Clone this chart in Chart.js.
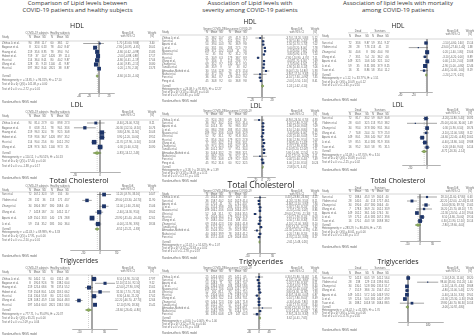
<!DOCTYPE html>
<html>
<head>
<meta charset="utf-8">
<script src="https://cdn.jsdelivr.net/npm/chart.js@4.4.1/dist/chart.umd.min.js"></script>
<style>
  body { margin: 0; width: 474px; height: 336px; position: relative; background: #fff; overflow: hidden; font-family: "Open Sans", sans-serif; }
  .ttl { position: absolute; top: 0; text-align: center; font-size: 6px; line-height: 7.4px; color: #333; }
  canvas { position: absolute; }
</style>
</head>
<body>
<div class="ttl" style="left:0;width:155px">Comparison of Lipid levels between<br>COVID-19 patients and healthy subjects</div>
<div class="ttl" style="left:170px;width:160px">Association of Lipid levels with<br>severity among COVID-19 patients</div>
<div class="ttl" style="left:320px;width:156px">Association of lipid levels with mortality<br>among COVID-19 patients</div>
<script>
// ---- data: COVID-19 vs healthy ----
const c1HdlStudy = ['Zhihua Li et al.', 'Bagaran et al.', 'Huang et al.', 'Hobert et al.', 'Hu et al.', 'Wang et al.', 'Hu et al.'];
const c1HdlG1 = [[94, 39.8, 11.7], [8, 32.4, 6.53], [219, 35.6, 8.95], [719, 37.0, 10.7], [114, 36.4, 8.01], [228, 35.0, 9.13], [597, 38.2, 8.04]];
const c1HdlG2 = [[60, 38.1, 12.0], [78, 40.2, 8.67], [78, 39.4, 9.40], [1426, 39.0, 11.4], [80, 40.2, 9.87], [1140, 41.0, 9.87], [2821, 38.0, 8.87]];
const c1HdlMd = [1.70, -7.80, -3.80, -2.00, -3.80, -6.00, 0.20];
const c1HdlLo = [-31.60, -10.95, -6.62, -4.88, -6.41, -9.85, -1.76];
const c1HdlHi = [9.84, -4.65, -0.98, 0.88, -1.19, -2.15, 2.16];
const c1HdlWt = [3.40, 16.01, 15.85, 17.17, 17.04, 16.80, 13.73];
const c1HdlAll = [-3.60, -6.20, -1.00];
const c1HdlStats = ['Heterogeneity: τ² = 13.85, I² = 96.31%, H² = 27.10', 'Test of θi = θj: Q(6) = 141.08, p = 0.00', 'Test of θ = 0: z = -2.72, p = 0.01'];

const c1LdlStudy = ['Zhihua Li et al.', 'Bagaran et al.', 'Huang et al.', 'Hobert et al.', 'Hu et al.', 'Wang et al.'];
const c1LdlG1 = [[94, 81.4, 27.9], [8, 63.8, 21.1], [219, 96.3, 32.4], [719, 93.6, 36.7], [114, 90.4, 25.6], [228, 97.6, 34.5]];
const c1LdlG2 = [[60, 89.8, 27.3], [78, 94.1, 33.6], [78, 92.5, 30.8], [1426, 89.7, 35.2], [80, 102.1, 29.2], [1140, 97.3, 35.0]];
const c1LdlMd = [-8.40, -30.30, 3.80, 3.90, -11.70, 0.30];
const c1LdlLo = [-26.00, -52.10, -3.90, -2.20, -17.90, -5.60];
const c1LdlHi = [9.20, -8.50, 11.50, 10.00, -5.50, 6.20];
const c1LdlWt = [8.21, 10.76, 20.03, 19.52, 20.58, 20.90];
const c1LdlAll = [-5.83, -14.12, 2.46];
const c1LdlStats = ['Heterogeneity: τ² = 110.12, I² = 90.51%, H² = 10.53', 'Test of θi = θj: Q(5) = 57.40, p = 0.00', 'Test of θ = 0: z = -1.38, p = 0.17'];

const c1TcStudy = ['Sun et al.', 'Yildirim et al.', 'Zhang et al.', 'Wang et al.', 'Aparisi et al.', 'Li et al.'];
const c1TcG1 = [[72, 167.2, 32.3], [28, 132.0, 36.0], [34, 180.6, 38.7], [7, 142.8, 18.7], [149, 150.1, 33.3], [59, 154.0, 35.2]];
const c1TcG2 = [[59, 155.0, 30.0], [113, 171.0, 43.7], [580, 168.6, 40.0], [24, 145.2, 11.7], [140, 174.0, 28.8], [585, 160.0, 36.4]];
const c1TcMd = [12.20, -39.00, 12.00, -2.40, -23.90, -6.00];
const c1TcLo = [-8.76, -53.30, -1.60, -14.30, -31.40, -15.90];
const c1TcHi = [33.16, -24.70, 25.60, 9.50, -16.40, 3.90];
const c1TcWt = [14.07, 11.90, 15.06, 18.02, 22.61, 18.34];
const c1TcAll = [-8.52, -15.21, -1.83];
const c1TcStats = ['Heterogeneity: τ² = 42.43, I² = 69.98%, H² = 3.33', 'Test of θi = θj: Q(5) = 17.91, p = 0.00', 'Test of θ = 0: z = -2.50, p = 0.01'];

const c1TgStudy = ['Zhihua Li et al.', 'Bagaran et al.', 'Huang et al.', 'Hobert et al.', 'Hu et al.', 'Wang et al.', 'Hu et al.'];
const c1TgG1 = [[94, 140.2, 51.0], [8, 190.3, 92.6], [219, 125.4, 68.6], [719, 150.8, 80.1], [114, 130.4, 55.8], [228, 108.2, 45.9], [597, 145.6, 60.3]];
const c1TgG2 = [[60, 132.1, 48.0], [78, 138.2, 60.4], [78, 137.4, 55.2], [1426, 118.5, 66.2], [80, 122.1, 60.5], [1140, 160.4, 48.3], [2821, 133.5, 58.4]];
const c1TgMd = [8.10, 52.10, -12.00, 32.30, 8.30, -52.20, 12.10];
const c1TgLo = [-3.90, 12.10, -27.90, -7.70, -4.60, -66.70, 5.90];
const c1TgHi = [20.10, 92.10, 3.90, 72.30, 21.20, -37.70, 18.30];
const c1TgWt = [17.97, 9.52, 15.61, 11.83, 17.02, 12.64, 15.41];
const c1TgAll = [-13.60, -26.40, -0.80];
const c1TgStats = ['Heterogeneity: τ² = 777.71, I² = 95.09%, H² = 20.37', 'Test of θi = θj: Q(6) = 65.23, p = 0.00', 'Test of θ = 0: z = 2.09, p = 0.04'];

// ---- data: severe vs non-severe ----
const c2HdlStudy = ['Zhihua Li et al.', 'Sun et al.', 'Aparisi et al.', 'Li et al.', 'Masana et al.', 'Wei et al.', 'Hu et al.', 'Wang et al.', 'Zhang et al.', 'Tanaka et al.', 'Ahmadian-Moheb et al.', 'Mahat et al.', 'Fan et al.', 'Peng et al.'];
const c2HdlG1 = [[25, 38.2, 10.7], [36, 36.5, 9.1], [54, 39.4, 10.3], [64, 33.1, 8.6], [189, 37.1, 10.2], [52, 35.0, 8.4], [21, 30.9, 6.3], [77, 33.6, 8.0], [69, 35.2, 9.7], [48, 35.9, 9.0], [30, 55.6, 12.8], [40, 37.2, 9.6], [36, 36.1, 8.7], [45, 34.8, 9.2]];
const c2HdlG2 = [[69, 41.9, 11.5], [202, 34.2, 8.7], [94, 36.9, 9.8], [183, 27.5, 7.9], [1043, 31.0, 9.6], [92, 31.2, 7.8], [179, 38.7, 8.9], [113, 29.6, 7.7], [130, 31.5, 9.3], [57, 33.0, 8.2], [29, 47.6, 15.4], [78, 41.1, 10.5], [129, 40.2, 9.4], [60, 36.8, 9.8]];
const c2HdlMd = [-3.70, 2.30, 2.50, 5.60, 6.10, 3.80, -7.80, 4.00, 3.70, 2.90, 8.00, -3.90, -4.10, -2.00];
const c2HdlLo = [-13.20, -0.80, -0.70, 3.20, 4.60, 0.90, -10.90, 1.70, 0.90, -0.30, 1.20, -17.10, -7.30, -5.50];
const c2HdlHi = [5.80, 5.40, 5.70, 8.00, 7.60, 6.70, -4.70, 6.30, 6.50, 6.10, 14.80, 9.30, -0.90, 1.50];
const c2HdlWt = [5.12, 7.48, 7.02, 7.78, 8.06, 7.24, 7.11, 7.69, 7.45, 7.06, 5.93, 6.30, 7.35, 8.41];
const c2HdlAll = [1.24, -1.62, 4.10];
const c2HdlStats = ['Heterogeneity: τ² = 24.08, I² = 91.85%, H² = 12.27', 'Test of θi = θj: Q(13) = 160.49, p = 0.00', 'Test of θ = 0: z = 0.85, p = 0.40'];

const c2LdlStudy = ['Zhihua Li et al.', 'Sun et al.', 'Aparisi et al.', 'Li et al.', 'Masana et al.', 'Wei et al.', 'Hu et al.', 'Wang et al.', 'Zhang et al.', 'Tanaka et al.', 'Ahmadian-Moheb et al.', 'Mahat et al.', 'Fan et al.', 'Peng et al.'];
const c2LdlG1 = [[25, 92.4, 28.3], [36, 96.7, 30.2], [54, 101.3, 35.0], [64, 88.4, 29.8], [189, 94.2, 33.6], [52, 92.0, 31.1], [21, 85.6, 26.4], [77, 99.5, 34.2], [69, 97.4, 32.3], [48, 101.2, 36.7], [30, 104.6, 33.2], [40, 86.5, 29.9], [36, 93.1, 30.8], [45, 95.2, 31.6]];
const c2LdlG2 = [[69, 101.3, 30.0], [202, 93.5, 31.4], [94, 98.5, 33.7], [183, 85.3, 28.6], [1043, 90.8, 32.9], [92, 91.8, 30.5], [179, 82.3, 27.8], [113, 93.6, 33.1], [130, 94.7, 31.8], [57, 95.1, 34.4], [29, 98.8, 32.1], [78, 92.7, 31.2], [129, 92.7, 30.3], [60, 92.2, 32.5]];
const c2LdlMd = [-8.90, 3.20, 2.80, 3.10, 3.40, 0.20, 3.30, 5.90, 2.70, 6.10, 5.80, -6.20, 0.40, 3.00];
const c2LdlLo = [-24.50, -2.80, -3.00, -2.60, 0.80, -5.60, -2.90, 0.40, -2.90, 0.20, -0.90, -27.00, -5.60, -2.50];
const c2LdlHi = [6.70, 9.20, 8.60, 8.80, 6.00, 6.00, 9.50, 11.40, 8.30, 12.00, 12.50, 14.60, 6.40, 8.50];
const c2LdlWt = [4.93, 7.41, 7.09, 7.66, 8.12, 7.22, 7.03, 7.51, 7.38, 7.11, 6.70, 4.11, 7.49, 10.24];
const c2LdlAll = [2.58, 0.71, 4.45];
const c2LdlStats = ['Heterogeneity: τ² = 3.18, I² = 28.14%, H² = 1.39', 'Test of θi = θj: Q(13) = 18.09, p = 0.15', 'Test of θ = 0: z = 2.71, p = 0.01'];

const c2TcStudy = ['Zhihua Li et al.', 'Sun et al.', 'Aparisi et al.', 'Li et al.', 'Masana et al.', 'Wei et al.', 'Hu et al.', 'Wang et al.', 'Zhang et al.', 'Tanaka et al.', 'Ahmadian-Moheb et al.', 'Mahat et al.', 'Fan et al.'];
const c2TcG1 = [[25, 162.4, 38.3], [36, 158.7, 40.2], [54, 170.3, 41.0], [64, 155.4, 39.8], [189, 166.2, 43.6], [52, 144.0, 31.1], [21, 160.6, 36.4], [77, 168.5, 44.2], [69, 159.4, 42.3], [48, 171.2, 46.7], [30, 150.6, 33.2], [40, 163.5, 39.9], [36, 157.1, 40.8]];
const c2TcG2 = [[69, 162.0, 40.0], [202, 162.9, 41.4], [94, 174.1, 43.7], [183, 155.1, 38.6], [1043, 166.4, 42.9], [92, 163.6, 35.5], [179, 160.5, 37.8], [113, 168.0, 43.1], [130, 163.5, 41.8], [57, 167.3, 44.4], [29, 162.9, 36.1], [78, 163.3, 41.2], [129, 160.8, 40.3]];
const c2TcMd = [0.40, -4.20, -3.80, 0.30, -0.20, -19.60, 0.10, 0.50, -4.10, 3.90, -12.30, 0.20, -3.70];
const c2TcLo = [-23.80, -11.90, -11.50, -7.60, -5.40, -27.90, -7.90, -7.30, -12.00, -4.20, -24.10, -7.80, -11.20];
const c2TcHi = [24.60, 3.50, 3.90, 8.20, 5.00, -11.30, 8.10, 8.30, 3.80, 12.00, -0.50, 8.20, 3.80];
const c2TcWt = [4.25, 8.11, 7.94, 8.32, 8.86, 7.51, 8.03, 8.24, 8.10, 7.62, 6.45, 8.30, 8.27];
const c2TcAll = [-2.61, -5.48, 0.26];
const c2TcStats = ['Heterogeneity: τ² = 12.47, I² = 51.62%, H² = 2.07', 'Test of θi = θj: Q(12) = 25.63, p = 0.01', 'Test of θ = 0: z = -1.78, p = 0.07'];

const c2TgStudy = ['Zhihua Li et al.', 'Sun et al.', 'Aparisi et al.', 'Li et al.', 'Masana et al.', 'Wei et al.', 'Hu et al.', 'Wang et al.', 'Zhang et al.', 'Tanaka et al.', 'Ahmadian-Moheb et al.', 'Mahat et al.', 'Fan et al.'];
const c2TgG1 = [[25, 142.4, 68.3], [36, 151.7, 70.2], [54, 148.3, 71.0], [64, 136.4, 59.8], [189, 155.2, 73.6], [52, 160.0, 81.1], [21, 130.6, 56.4], [77, 149.5, 74.2], [69, 144.4, 72.3], [48, 152.2, 76.7], [30, 170.6, 93.2], [40, 158.5, 79.9], [36, 139.1, 60.8]];
const c2TgG2 = [[69, 142.1, 65.0], [202, 155.8, 71.4], [94, 148.1, 70.7], [183, 136.8, 58.6], [1043, 154.7, 72.9], [92, 156.2, 75.5], [179, 138.9, 57.8], [113, 149.4, 73.1], [130, 144.7, 71.8], [57, 151.8, 74.4], [29, 156.8, 85.1], [78, 154.4, 77.2], [129, 147.0, 62.3]];
const c2TgMd = [0.30, -4.10, 0.20, -0.40, 0.50, 3.80, -8.30, 0.10, -0.30, 0.40, 13.80, 4.10, -7.90];
const c2TgLo = [-15.80, -12.00, -7.90, -8.50, -5.60, -4.30, -16.60, -7.80, -8.40, -7.70, -24.30, -4.20, -24.10];
const c2TgHi = [16.40, 3.80, 8.30, 7.70, 6.60, 11.90, 0.00, 8.00, 7.80, 8.50, 51.90, 12.40, 8.30];
const c2TgWt = [5.41, 8.02, 8.51, 8.44, 9.20, 7.93, 6.87, 8.49, 8.38, 8.40, 2.72, 7.86, 9.77];
const c2TgAll = [3.62, -0.41, 7.65];
const c2TgStats = ['Heterogeneity: τ² = 0.00, I² = 0.00%, H² = 1.00', 'Test of θi = θj: Q(12) = 9.74, p = 0.64', 'Test of θ = 0: z = 1.76, p = 0.08'];

// ---- data: dead vs survivors ----
const c3Study = ['Sun et al.', 'Yildirim et al.', 'Zhang et al.', 'Wang et al.', 'Aparisi et al.', 'Li et al.', 'Tuan et al.'];

const c3HdlG1 = [[72, 33.6, 9.87], [28, 28.0, 7.76], [34, 40.6, 8.0], [7, 33.1, 5.4], [149, 32.5, 10.6], [59, 35.0, 8.31], [16, 31.0, 8.86]];
const c3HdlG2 = [[59, 35.1, 9.27], [113, 41.0, 13.0], [580, 40.4, 9.8], [24, 36.2, 4.6], [140, 32.1, 10.2], [585, 37.9, 8.25], [58, 35.4, 11.2]];
const c3HdlMd = [-1.50, -13.00, 0.20, -3.10, 0.40, -2.90, -4.40];
const c3HdlLo = [-4.60, -27.40, -1.40, -6.20, -1.20, -5.00, -10.40];
const c3HdlHi = [1.60, 1.40, 1.80, 0.00, 2.00, -0.80, 1.60];
const c3HdlWt = [15.14, 1.38, 23.06, 8.89, 20.88, 22.46, 8.19];
const c3HdlAll = [-1.24, -2.71, 0.23];
const c3HdlStats = ['Heterogeneity: τ² = 1.12, I² = 33.77%, H² = 1.51', 'Test of θi = θj: Q(6) = 10.09, p = 0.12', 'Test of θ = 0: z = -1.65, p = 0.10'];

const c3LdlG1 = [[72, 81.7, 33.2], [28, 60.3, 32.5], [34, 93.4, 37.8], [7, 74.8, 24.4], [149, 80.1, 28.6], [59, 85.5, 31.4], [16, 95.2, 30.3]];
const c3LdlG2 = [[59, 84.9, 30.8], [113, 95.3, 38.2], [580, 93.1, 36.4], [24, 77.9, 25.3], [140, 94.7, 35.8], [585, 91.9, 33.6], [58, 95.0, 31.5]];
const c3LdlMd = [-3.20, -35.00, 0.30, -3.10, -14.60, -6.40, 0.20];
const c3LdlLo = [-11.80, -60.00, -5.90, -12.00, -22.40, -13.80, -8.60];
const c3LdlHi = [5.40, 30.00, 6.50, 5.80, -6.80, 1.00, 9.00];
const c3LdlWt = [16.92, 1.49, 18.74, 8.22, 20.61, 19.88, 14.14];
const c3LdlAll = [-8.72, -16.30, -1.14];
const c3LdlStats = ['Heterogeneity: τ² = 52.49, I² = 67.70%, H² = 3.10', 'Test of θi = θj: Q(6) = 16.69, p = 0.01', 'Test of θ = 0: z = -2.25, p = 0.02'];

const c3TcG1 = [[72, 188.4, 45.3], [28, 140.5, 44.0], [34, 190.6, 43.7], [7, 178.3, 36.9], [149, 162.2, 36.1], [59, 175.2, 41.6], [16, 170.1, 40.3]];
const c3TcG2 = [[59, 160.3, 40.0], [113, 172.7, 46.1], [580, 166.6, 40.0], [24, 162.1, 33.9], [140, 174.5, 34.0], [585, 167.1, 39.6], [58, 169.8, 38.2]];
const c3TcMd = [28.10, -32.20, 24.00, 16.20, -12.30, 8.10, 0.30];
const c3TcLo = [-11.60, -52.00, 8.30, -15.70, -20.50, -3.80, -11.90];
const c3TcHi = [67.80, -12.40, 39.70, 48.10, -4.10, 20.00, 12.50];
const c3TcWt = [6.63, 11.63, 15.65, 7.75, 19.04, 19.16, 20.14];
const c3TcAll = [-7.80, -19.60, 4.00];
const c3TcStats = ['Heterogeneity: τ² = 283.29, I² = 86.40%, H² = 7.35', 'Test of θi = θj: Q(6) = 40.61, p = 0.00', 'Test of θ = 0: z = 1.38, p = 0.17'];

const c3TgG1 = [[72, 142.3, 60.5], [28, 238.0, 129.0], [34, 130.1, 52.8], [7, 151.9, 38.6], [149, 141.5, 57.2], [59, 125.4, 50.5], [16, 188.2, 105.8]];
const c3TgG2 = [[59, 141.2, 56.4], [113, 139.6, 84.1], [580, 135.3, 51.7], [24, 156.7, 45.2], [140, 146.9, 59.2], [585, 140.7, 49.9], [58, 168.4, 88.5]];
const c3TgMd = [1.10, 98.40, -5.20, -4.80, -5.40, -15.30, 19.80];
const c3TgLo = [-9.20, 45.60, -14.70, -15.00, -14.10, -25.30, -40.70];
const c3TgHi = [11.40, 151.20, 4.30, 5.40, 3.30, -5.30, 80.30];
const c3TgWt = [18.20, 1.44, 18.68, 12.70, 19.01, 19.44, 10.53];
const c3TgAll = [-3.06, -10.92, 4.80];
const c3TgStats = ['Heterogeneity: τ² = 56.42, I² = 41.33%, H² = 1.70', 'Test of θi = θj: Q(6) = 12.04, p = 0.06', 'Test of θ = 0: z = -0.76, p = 0.45'];

// tick labels of the x axes
const c1HdlTicks = [-40, -20, 0, 20];
const c1LdlTicks = [-50, 0];
const c1TcTicks = [-50, 0, 50];
const c1TgTicks = [-50, 0, 50];
const c2HdlTicks = [-20, 0, 20];
const c2LdlTicks = [-20, 0, 20];
const c2TcTicks = [-50, 0, 50];
const c2TgTicks = [-40, 0, 40];
const c3HdlTicks = [-40, -20, 0];
const c3LdlTicks = [-50, 0];
const c3TcTicks = [-50, 0, 50];
const c3TgTicks = [0, 100];

const groupNames = [['COVID-19 subjects', 'Healthy subjects'], ['Severe COVID-19', 'Non-severe COVID-19'], ['Dead', 'Survivors']];

// column layout (x in px inside each column canvas)
const COLS = [
  { x: 0, w: 160, g1: [30, 37, 44], g2: [52, 60, 67], grp: [37, 60], md: 128, wt: 152, mk: 1.0, note: 'Random-effects REML model' },
  { x: 160, w: 160, g1: [47, 54, 61], g2: [70, 78, 85], grp: [54, 78], md: 137, wt: 155, mk: 0.8, note: 'Random-effects REML model' },
  { x: 320, w: 154, g1: [30, 38, 47], g2: [53, 60, 67], grp: [38, 60], md: 133, wt: 150, mk: 0.85, note: 'Random-effects REML model' }
];

// panel geometry (page px) + which data it uses
const panels = [
  { col: 0, top: 18, bottom: 106, sub: 'HDL', subX: 77, subY: 26, subSize: 7, grpY: 33, colY: 37.5, plotTop: 41, row1: 43.5, step: 4.2, allY: 76, hetStep: 4.3, axisY: 93, noteY: 102, L: 79, R: 114, xMin: -40, xMax: 30,
    study: c1HdlStudy, g1: c1HdlG1, g2: c1HdlG2, md: c1HdlMd, lo: c1HdlLo, hi: c1HdlHi, wt: c1HdlWt, all: c1HdlAll, stats: c1HdlStats, ticks: c1HdlTicks },
  { col: 0, top: 98, bottom: 182, sub: 'LDL', subX: 77, subY: 105, subSize: 7, grpY: 112, colY: 116.5, plotTop: 120, row1: 123, step: 4.8, allY: 153, hetStep: 4.3, axisY: 172, noteY: 178, L: 70, R: 120, xMin: -60, xMax: 40,
    study: c1LdlStudy, g1: c1LdlG1, g2: c1LdlG2, md: c1LdlMd, lo: c1LdlLo, hi: c1LdlHi, wt: c1LdlWt, all: c1LdlAll, stats: c1LdlStats, ticks: c1LdlTicks },
  { col: 0, top: 174, bottom: 260, sub: 'Total Cholesterol', subX: 79, subY: 181, subSize: 7.5, grpY: 186, colY: 190, plotTop: 192, row1: 194.5, step: 5.9, allY: 229, hetStep: 3.6, axisY: 250, noteY: 256, L: 70, R: 120, xMin: -90, xMax: 60,
    study: c1TcStudy, g1: c1TcG1, g2: c1TcG2, md: c1TcMd, lo: c1TcLo, hi: c1TcHi, wt: c1TcWt, all: c1TcAll, stats: c1TcStats, ticks: c1TcTicks },
  { col: 0, top: 254, bottom: 336, sub: 'Triglycerides', subX: 79, subY: 261, subSize: 6.5, grpY: 268, colY: 272, plotTop: 275, row1: 279, step: 4.3, allY: 310, hetStep: 4, axisY: 329, noteY: 334.5, L: 72, R: 117, xMin: -80, xMax: 100,
    study: c1TgStudy, g1: c1TgG1, g2: c1TgG2, md: c1TgMd, lo: c1TgLo, hi: c1TgHi, wt: c1TgWt, all: c1TgAll, stats: c1TgStats, ticks: c1TgTicks },

  { col: 1, top: 15, bottom: 105, sub: 'HDL', subX: 90, subY: 22, subSize: 6.5, grpY: 29, colY: 32.5, plotTop: 35, row1: 38, step: 3.3, allY: 86, hetStep: 3.2, axisY: 97, noteY: 101, L: 247, R: 275, xMin: -30, xMax: 26,
    study: c2HdlStudy, g1: c2HdlG1, g2: c2HdlG2, md: c2HdlMd, lo: c2HdlLo, hi: c2HdlHi, wt: c2HdlWt, all: c2HdlAll, stats: c2HdlStats, ticks: c2HdlTicks },
  { col: 1, top: 99, bottom: 184, sub: 'LDL', subX: 96, subY: 106, subSize: 6.5, grpY: 111, colY: 114, plotTop: 116, row1: 120, step: 3.3, allY: 167, hetStep: 3, axisY: 177, noteY: 181, L: 247, R: 275, xMin: -45, xMax: 39,
    study: c2LdlStudy, g1: c2LdlG1, g2: c2LdlG2, md: c2LdlMd, lo: c2LdlLo, hi: c2LdlHi, wt: c2LdlWt, all: c2LdlAll, stats: c2LdlStats, ticks: c2LdlTicks },
  { col: 1, top: 178, bottom: 261, sub: 'Total Cholesterol', subX: 101, subY: 185.5, subSize: 8.5, grpY: 191, colY: 194, plotTop: 195.5, row1: 197.5, step: 3.3, allY: 242, hetStep: 3, axisY: 253, noteY: 258, L: 247, R: 275, xMin: -52, xMax: 60,
    study: c2TcStudy, g1: c2TcG1, g2: c2TcG2, md: c2TcMd, lo: c2TcLo, hi: c2TcHi, wt: c2TcWt, all: c2TcAll, stats: c2TcStats, ticks: c2TcTicks },
  { col: 1, top: 255, bottom: 336, sub: 'Triglycerides', subX: 101, subY: 262, subSize: 7.5, grpY: 268, colY: 271, plotTop: 273, row1: 277, step: 3.1, allY: 318, hetStep: 3, axisY: 329, noteY: 333.5, L: 247, R: 275, xMin: -48, xMax: 64,
    study: c2TgStudy, g1: c2TgG1, g2: c2TgG2, md: c2TgMd, lo: c2TgLo, hi: c2TgHi, wt: c2TgWt, all: c2TgAll, stats: c2TgStats, ticks: c2TgTicks },

  { col: 2, top: 18, bottom: 104, sub: 'HDL', subX: 78, subY: 26, subSize: 6.5, grpY: 31, colY: 36, plotTop: 39, row1: 43, step: 4.6, allY: 75, hetStep: 3.5, axisY: 92, noteY: 100, L: 399, R: 432, xMin: -42, xMax: 7.5,
    study: c3Study, g1: c3HdlG1, g2: c3HdlG2, md: c3HdlMd, lo: c3HdlLo, hi: c3HdlHi, wt: c3HdlWt, all: c3HdlAll, stats: c3HdlStats, ticks: c3HdlTicks },
  { col: 2, top: 98, bottom: 174, sub: 'LDL', subX: 78, subY: 105, subSize: 6.5, grpY: 110, colY: 114, plotTop: 116, row1: 118.5, step: 4.8, allY: 151.5, hetStep: 3.6, axisY: 165, noteY: 170, L: 402, R: 440, xMin: -75, xMax: 39,
    study: c3Study, g1: c3LdlG1, g2: c3LdlG2, md: c3LdlMd, lo: c3LdlLo, hi: c3LdlHi, wt: c3LdlWt, all: c3LdlAll, stats: c3LdlStats, ticks: c3LdlTicks },
  { col: 2, top: 174, bottom: 251, sub: 'Total Cholesterol', subX: 78, subY: 181, subSize: 7, grpY: 188, colY: 191.5, plotTop: 194, row1: 197, step: 4, allY: 225, hetStep: 3.4, axisY: 241, noteY: 247, L: 400, R: 440, xMin: -80, xMax: 80,
    study: c3Study, g1: c3TcG1, g2: c3TcG2, md: c3TcMd, lo: c3TcLo, hi: c3TcHi, wt: c3TcWt, all: c3TcAll, stats: c3TcStats, ticks: c3TcTicks },
  { col: 2, top: 255, bottom: 334, sub: 'Triglycerides', subX: 78, subY: 262, subSize: 7, grpY: 268, colY: 273, plotTop: 275, row1: 278, step: 4.2, allY: 307, hetStep: 3.2, axisY: 322, noteY: 330, L: 398, R: 443, xMin: -50, xMax: 175,
    study: c3Study, g1: c3TgG1, g2: c3TgG2, md: c3TgMd, lo: c3TgLo, hi: c3TgHi, wt: c3TgWt, all: c3TgAll, stats: c3TgStats, ticks: c3TgTicks }
];

const TXT = '#6a6a6a';
const SMALL = '2.7px "Liberation Sans", Arial';
const fmt = v => v.toFixed(2);
const ciText = (m, l, h) => fmt(m) + ' [' + fmt(l) + ', ' + fmt(h) + ']';

// draws the table text around the forest plot
function tablePlugin(p) {
  const c = COLS[p.col];
  return {
    id: 'forestTable',
    afterDraw(chart) {
      const ctx = chart.ctx;
      const y = chart.scales.y;
      const t = p.top;
      const n = p.study.length;
      const allV = 1 + (p.allY - p.row1) / p.step;
      ctx.save();
      ctx.fillStyle = '#222';
      ctx.textBaseline = 'middle';

      ctx.font = p.subSize + 'px "Open Sans", sans-serif';
      ctx.textAlign = 'center';
      ctx.fillText(p.sub, p.subX, p.subY - t);

      ctx.fillStyle = TXT;
      ctx.font = SMALL;
      ctx.strokeStyle = '#999';
      ctx.lineWidth = 0.4;
      groupNames[p.col].forEach((g, i) => {
        ctx.fillText(g, c.grp[i], p.grpY - t);
        ctx.beginPath();
        ctx.moveTo(c.grp[i] - 10, p.grpY - t + 1.8);
        ctx.lineTo(c.grp[i] + 10, p.grpY - t + 1.8);
        ctx.stroke();
      });
      ['N', 'Mean', 'SD'].forEach((h, i) => {
        ctx.fillText(h, c.g1[i], p.colY - t);
        ctx.fillText(h, c.g2[i], p.colY - t);
      });
      ctx.fillText('Mean Diff.', c.md, p.grpY - t);
      ctx.fillText('with 95% CI', c.md, p.grpY - t + 3);
      ctx.fillText('Weight', c.wt, p.grpY - t);
      ctx.fillText('(%)', c.wt, p.grpY - t + 3);
      ctx.textAlign = 'left';
      ctx.fillText('Study', 2, p.colY - t);

      ctx.beginPath();
      ctx.moveTo(0, p.plotTop - t);
      ctx.lineTo(c.w - 1, p.plotTop - t);
      ctx.stroke();

      for (let i = 0; i < n; i++) {
        const yy = y.getPixelForValue(i + 1);
        ctx.textAlign = 'left';
        ctx.fillText(p.study[i], 2, yy);
        ctx.textAlign = 'center';
        p.g1[i].forEach((v, k) => ctx.fillText(String(v), c.g1[k], yy));
        p.g2[i].forEach((v, k) => ctx.fillText(String(v), c.g2[k], yy));
        ctx.fillText(ciText(p.md[i], p.lo[i], p.hi[i]), c.md, yy);
        ctx.fillText(fmt(p.wt[i]), c.wt, yy);
      }

      const ya = y.getPixelForValue(allV);
      ctx.textAlign = 'left';
      ctx.fillText('Overall', 2, ya);
      p.stats.forEach((s, k) => ctx.fillText(s, 2, ya + (k + 1) * p.hetStep));
      ctx.textAlign = 'center';
      ctx.fillText(ciText(p.all[0], p.all[1], p.all[2]), c.md, ya);
      ctx.textAlign = 'left';
      ctx.fillText(c.note, 2, p.noteY - t);
      ctx.restore();
    }
  };
}

function makePanel(p) {
  const c = COLS[p.col];
  const h = p.bottom - p.top;
  const cv = document.createElement('canvas');
  cv.width = c.w;
  cv.height = h;
  cv.style.left = c.x + 'px';
  cv.style.top = p.top + 'px';
  document.body.appendChild(cv);

  const yMin = 1 - (p.row1 - p.plotTop) / p.step;
  const yMax = yMin + (p.axisY - p.plotTop) / p.step;
  const allV = 1 + (p.allY - p.row1) / p.step;
  const dh = 1.4 / p.step;
  const rows = p.study.map((s, i) => i + 1);

  const pts = rows.map((r, i) => ({ x: p.md[i], y: r }));
  const sizes = p.wt.map(w => Math.max(1.2, c.mk * Math.sqrt(w)) / Math.SQRT2);
  const ci = rows.flatMap((r, i) => [{ x: p.lo[i], y: r }, { x: p.hi[i], y: r }, { x: p.hi[i], y: null }]);
  const [ae, al, ah] = p.all;
  const diamond = [{ x: al, y: allV }, { x: ae, y: allV - dh }, { x: ah, y: allV }, { x: ae, y: allV + dh }, { x: al, y: allV }];

  new Chart(cv, {
    type: 'scatter',
    data: {
      datasets: [
        { type: 'scatter', data: pts, pointStyle: 'rect', pointRadius: sizes, backgroundColor: '#1d3468', borderWidth: 0 },
        { type: 'line', data: diamond, fill: 'shape', backgroundColor: '#8fae5d', borderColor: '#55732f', borderWidth: 0.4, pointRadius: 0 },
        { type: 'line', data: ci, borderColor: '#4a4a4a', borderWidth: 0.5, pointRadius: 0, spanGaps: false },
        { type: 'line', data: [{ x: ae, y: yMin }, { x: ae, y: yMax }], borderColor: '#a8a8a8', borderWidth: 0.5, borderDash: [1, 1], pointRadius: 0 },
        { type: 'line', data: [{ x: 0, y: yMin }, { x: 0, y: yMax }], borderColor: '#777', borderWidth: 0.6, pointRadius: 0 }
      ]
    },
    options: {
      responsive: false,
      animation: false,
      devicePixelRatio: 1,
      layout: { padding: { left: p.L - c.x, right: c.x + c.w - p.R, top: p.plotTop - p.top, bottom: p.bottom - p.axisY - 5 } },
      scales: {
        x: {
          type: 'linear', min: p.xMin, max: p.xMax, position: 'bottom',
          border: { color: '#666', width: 0.5 },
          grid: { drawOnChartArea: false, tickLength: 1.5, color: '#666', lineWidth: 0.5 },
          ticks: { font: { size: 2.8, family: 'Liberation Sans' }, color: '#555', padding: 0.5, maxRotation: 0, autoSkip: false },
          afterBuildTicks: s => { s.ticks = p.ticks.map(v => ({ value: v })); },
          afterFit: s => { s.height = 5; }
        },
        y: { type: 'linear', reverse: true, min: yMin, max: yMax, display: false }
      },
      plugins: { legend: { display: false }, tooltip: { enabled: false } }
    },
    plugins: [tablePlugin(p)]
  });
}

panels.forEach(makePanel);
</script>
</body>
</html>
